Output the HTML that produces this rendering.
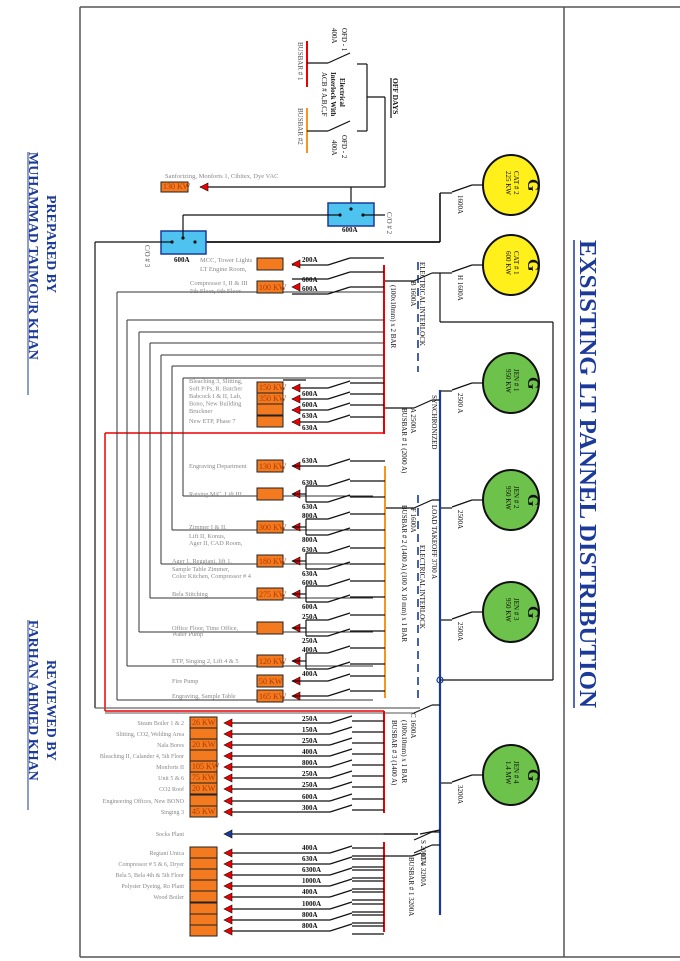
<!DOCTYPE html>
<html><head><meta charset="utf-8"><style>
html,body{margin:0;padding:0;background:#fff;}
svg{display:block;font-family:"Liberation Serif",serif;}
</style></head><body>
<svg id="sld" width="680" height="961" viewBox="0 0 680 961" xmlns="http://www.w3.org/2000/svg">
<g id="frame" stroke="#555" stroke-width="1.5" fill="none">
<line x1="80" y1="7" x2="680" y2="7"/><line x1="80" y1="7" x2="80" y2="957"/><line x1="80" y1="957" x2="680" y2="957"/><line x1="564" y1="7" x2="564" y2="957"/>
</g>
<g id="dyn"></g>
</svg>
<script>
const NS="http://www.w3.org/2000/svg";
const dyn=document.getElementById('dyn');
function el(tag,attrs,parent){const e=document.createElementNS(NS,tag);for(const k in attrs)e.setAttribute(k,attrs[k]);(parent||dyn).appendChild(e);return e;}
function line(x1,y1,x2,y2,c,w,dash){const e=el('line',{x1,y1,x2,y2,stroke:c||'#111','stroke-width':w||1.2});if(dash)e.setAttribute('stroke-dasharray',dash);

return e;}
function txt(x,y,s,size,opt){opt=opt||{};const e=el('text',{x,y,'font-size':size,fill:opt.fill||'#111'});if(opt.rot)e.setAttribute('transform','rotate(90 '+x+' '+y+')');if(opt.bold)e.setAttribute('font-weight','bold');if(opt.anchor)e.setAttribute('text-anchor',opt.anchor);if(opt.len){e.setAttribute('textLength',opt.len);e.setAttribute('lengthAdjust','spacingAndGlyphs');}e.textContent=s;

return e;}
function sw(x,y,name){
const e=el('line',{x1:x,y1:y,x2:x+22,y2:y-7,stroke:'#111','stroke-width':1.2});

}
function arrow(x,y,c){const e=el('polygon',{points:(x)+','+y+' '+(x+8)+','+(y-4)+' '+(x+8)+','+(y+4),fill:c||'#e00',stroke:'#111','stroke-width':0.6});

}
function box(x,y,w,h,s){const r=el('rect',{x,y,width:w,height:h,fill:'#f47a20',stroke:'#222','stroke-width':1});


if(s)txt(x+2,y+h-3,s,8,{fill:'#b03a00',name:'load-kw'});}

txt(580,240,'EXSISTING LT PANNEL DISTRIBUTION',24,{rot:1,bold:1,fill:'#1b3a9a',len:468,name:'diagram-title'});
line(574,240,574,708,'#1b3a9a',1.5);
txt(47,195,'PREPARED BY',14,{rot:1,bold:1,fill:'#1b3a9a',name:'prepared-by'});
txt(29,152,'MUHAMMAD TAIMOUR KHAN',14,{rot:1,bold:1,fill:'#1b3a9a',name:'preparer-name'});
line(28,152,28,395,'#1b3a9a',1);
txt(47,660,'REVIEWED BY',14,{rot:1,bold:1,fill:'#1b3a9a',name:'reviewed-by'});
txt(29,620,'FARHAN AHMED KHAN',14,{rot:1,bold:1,fill:'#1b3a9a',name:'reviewer-name'});
line(28,620,28,810,'#1b3a9a',1);

const genNames=['CAT # 2','CAT # 1','JEN # 1','JEN # 2','JEN # 3','JEN # 4'];
const genRatings=['225 KW','600 KW','950 KW','950 KW','950 KW','1.4 MW'];
const genBreakers=['1600A','H 1600A','2500 A','2500A','2500A','3200A'];
const genY=[185,265,383,500,612,775];
genY.forEach((y,i)=>{
 const c=el('ellipse',{cx:511,cy:y,rx:28,ry:30,fill:i<2?'#ffef1a':'#6cc24a',stroke:'#111','stroke-width':2});
 
 
 txt(528,y-6,'G',16,{rot:1,bold:1,name:'generator-symbol'});
 txt(514,y-14,genNames[i],7,{rot:1,name:'generator-name'});
 txt(506,y-14,genRatings[i],7,{rot:1,name:'generator-rating'});
 line(483,y,472,y);
 el('line',{x1:472,y1:y,x2:452,y2:y+7,stroke:'#111','stroke-width':1.2});
 line(452,y+8,440,y+8);
 txt(458,y+10,genBreakers[i],7,{rot:1,name:'generator-breaker'});
});
line(440,390,440,915,'#1b3a9a',2.2);
line(440,193,440,242,'#111',1.6);
line(195,242,440,242,'#111',1.8);
line(440,273,440,322);line(440,322,553,322);line(553,322,553,680);line(553,680,440,680);
el('circle',{cx:440,cy:680,r:3,fill:'none',stroke:'#1b3a9a','stroke-width':1.2});
txt(432,395,'SYNCHRONIZED',7,{rot:1,name:'synchronized-label'});
txt(432,505,'LOAD TAKEOFF 3700 A',7,{rot:1,name:'load-takeoff-label'});
line(418,262,418,372,'#1b3a9a',1.6,'8,5');
line(418,495,418,698,'#1b3a9a',1.6,'8,5');
txt(420,262,'ELECTRICAL INTERLOCK',7,{rot:1,name:'interlock-label'});
txt(420,545,'ELECTRICAL INTERLOCK',7,{rot:1,name:'interlock-label'});
const incY=[273,400,500,705,832,845];
const incNames=['B 1600A','A 2500A','F 1600A','C 1600A','S 2000A','LT 4 3200A'];
const incX=[411,411,411,411,421,421];
incY.forEach((y,i)=>{line(440,y,432,y);el('line',{x1:432,y1:y,x2:414,y2:y+8,stroke:'#111','stroke-width':1.2});txt(incX[i],y+8,incNames[i],7,{rot:1,name:'incomer-breaker'});});
line(384,281,414,281);line(385,408,414,408);line(385,508,414,508);line(105,713,414,713,'#777',1.3);
line(384,265,384,434,'#e00',2);line(105,433,385,433,'#e00',1.5);line(105,433,105,711,'#e00',1.5);line(105,711,384,711,'#e00',1.5);line(384,711,384,813,'#e00',2);
line(385,466,385,698,'#f7941d',2);
line(384,842,384,932,'#e00',2);
txt(391,285,'(100x10mm) x 2 BAR',7,{rot:1,name:'busbar1-size'});
txt(402,408,'BUSBAR # 1 (2000 A)',7,{rot:1,name:'busbar1-label'});
txt(402,505,'BUSBAR # 2 (1400 A)   (100 X 10 mm) x 1 BAR',7,{rot:1,name:'busbar2-label'});
txt(402,720,'(100x10mm) x 1 BAR',7,{rot:1,name:'busbar3-size'});
txt(392,720,'BUSBAR # 3 (1400 A)',7,{rot:1,name:'busbar3-label'});
txt(409,857,'BUSBAR # 1 3200A',7,{rot:1,name:'busbar4-label'});
line(384,856,412,856);line(412,856,421,853);line(384,834,418,834);line(420,834,440,830);

line(307,41,307,87,'#e00',2);line(307,108,307,153,'#f7941d',2);
txt(298,42,'BUSBAR # 1',7,{rot:1,fill:'#555',name:'offday-busbar1'});
txt(298,108,'BUSBAR #2',7,{rot:1,fill:'#555',name:'offday-busbar2'});
line(307,63,328,63);el('line',{x1:328,y1:63,x2:350,y2:53,stroke:'#111','stroke-width':1.2});
line(307,131,328,131);el('line',{x1:328,y1:131,x2:350,y2:121,stroke:'#111','stroke-width':1.2});
line(357,64,367,64);line(357,131,367,131);line(367,64,367,131);line(367,97,385,97);line(385,97,385,187);
txt(342,28,'OFD - 1',7,{rot:1,name:'ofd1'});txt(332,28,'400A',7,{rot:1,name:'ofd1-rating'});
txt(342,135,'OFD - 2',7,{rot:1,name:'ofd2'});txt(332,140,'400A',7,{rot:1,name:'ofd2-rating'});
txt(340,78,'Electrical',7,{rot:1,bold:1,name:'interlock-note'});txt(331,72,'Interlock With',7,{rot:1,bold:1,name:'interlock-note'});txt(322,72,'ACB # A,B,C,F',7,{rot:1,name:'interlock-note'});
txt(393,78,'OFF DAYS',7.5,{rot:1,bold:1,name:'off-days'});line(391,78,391,118);
line(200,187,385,187);arrow(200,187);box(161,182,27,10,'130 KW');
txt(165,178,'Sanforizing, Monforts 1, Cibitex, Dye VAC',6.5,{fill:'#888',name:'load-desc'});
line(351,187,351,209);
const co2=el('rect',{x:328,y:203,width:46,height:23,fill:'#4fc3f0',stroke:'#1b3a9a','stroke-width':1.5});


const co3=el('rect',{x:161,y:231,width:45,height:23,fill:'#4fc3f0',stroke:'#1b3a9a','stroke-width':1.5});


line(363,215,385,215);line(183,215,340,215);line(183,215,183,238);
[[340,215],[351,209],[363,215],[172,242],[183,238],[195,242]].forEach(p=>el('circle',{cx:p[0],cy:p[1],r:1.6,fill:'#111'}));
txt(342,232,'600A',7,{bold:1,name:'co2-rating'});txt(174,262,'600A',7,{bold:1,name:'co3-rating'});
txt(387,212,'C/O # 2',7,{rot:1,fill:'#555',name:'co2-label'});txt(145,245,'C/O # 3',7,{rot:1,fill:'#555',name:'co3-label'});
line(95,242,172,242);line(95,242,95,708);line(95,708,420,708,'#666',1.3);

const loopX=[117,127,139,150,161,172,183];
const loopY=[292,320,332,343,355,366,378];
loopX.forEach((x,i)=>{line(x,loopY[i],384,loopY[i],'#333',1);line(x,loopY[i],x,700-i*34,'#333',1);line(x,700-i*34,373,700-i*34,'#333',1);});

const b1Amps=['200A','600A','600A'];const b1Y=[263,277,292];
b1Y.forEach((y,i)=>{sw(328,y+2);line(350,y-5,384,y-5);line(292,y+2,328,y+2);txt(302,y+i%2*6-1,b1Amps[i],7,{bold:1,name:'feeder-rating'});});
arrow(292,264);box(257,258,26,12,'');arrow(292,287);box(257,281,26,12,'100 KW');
txt(200,262,'MCC, Tower Lights',6.5,{fill:'#888',name:'load-desc'});txt(200,271,'LT Engine Room,',6.5,{fill:'#888',name:'load-desc'});
txt(190,285,'Compressor I, II & III',6.5,{fill:'#888',name:'load-desc'});txt(190,293,'5th Floor, 6th Floor',6.5,{fill:'#888',name:'load-desc'});
const b1bAmps=['600A','600A','630A','630A'];const b1bKW=['150 KW','350 KW','',''];const b1bY=[388,399,410,422];
b1bY.forEach((y,i)=>{sw(328,y);line(350,y-5,384,y-5);line(292,y,328,y);arrow(292,y);box(257,y-6,26,11,b1bKW[i]);txt(302,y+8,b1bAmps[i],7,{bold:1,name:'feeder-rating'});});
['Bleaching 3, Slitting,','Soft P/Ps, R. Batcher','Babcock I & II, Lab,','Bono, New Building','Bruckner'].forEach((s,i)=>txt(189,383+i*7.5,s,6.3,{fill:'#888',name:'load-desc'}));
txt(189,423,'New ETP, Phase 7',6.3,{fill:'#888',name:'load-desc'});
line(283,380,306,380);

const b2Names=['Engraving Department','Raising M/C, Lift III','Zimmer I & II,','Ager 1, Reggiani, lift 1,','Bela Stitching','Office Floor, Time Office,','ETP, Singing 2, Lift 4 & 5','Fire Pump','Engraving, Sample Table'];
const b2KW=['130 KW','','300 KW','180 KW','275 KW','','120 KW','50 KW','165 KW'];
const b2Amps=['630A','630A','800A','630A','600A','250A','400A','',''];
const b2Y=[466,494,527,561,594,628,661,681,696];
const b2Pair=[0,1,1,1,1,1,1,0,0];
b2Y.forEach((y,i)=>{
 arrow(292,y);box(257,y-6,26,12,b2KW[i]);line(292,y,(b2Pair[i]?306:328),y);
 if(b2Pair[i]){line(306,y-8,306,y+8);[y-8,y+8].forEach(yy=>{line(306,yy,328,yy);sw(328,yy);line(350,yy-5,385,yy-5);});txt(302,y-9,b2Amps[i],7,{bold:1,name:'feeder-rating'});txt(302,y+15,b2Amps[i],7,{bold:1,name:'feeder-rating'});}
 else{sw(328,y);line(350,y-5,385,y-5);if(b2Amps[i])txt(302,y-3,b2Amps[i],7,{bold:1,name:'feeder-rating'});}
 txt(i>=3?172:189,y+2,b2Names[i],6.3,{fill:'#888',name:'load-desc'});
});
txt(189,538,'Lift II, Konus,',6.3,{fill:'#888',name:'load-desc'});txt(189,545,'Ager II, CAD Room,',6.3,{fill:'#888',name:'load-desc'});
txt(172,571,'Sample Table Zimmer,',6.3,{fill:'#888',name:'load-desc'});txt(172,578,'Color Kitchen, Compressor # 4',6.3,{fill:'#888',name:'load-desc'});
txt(172,636,'Water Pump',6.3,{fill:'#888',name:'load-desc'});

const b3Names=['Steam Boiler 1 & 2','Slitting, CO2, Welding Area','Nala Bores','Bleaching II, Calander 4, 5th Floor','Monforts II','Unit 5 & 6','CO2 Roof','Engineering Offices, New BONO','Singing 3'];
const b3KW=['26 KW','','20 KW','','105 KW','75 KW','20 KW','','45 KW'];
const b3Amps=['250A','150A','250A','400A','800A','250A','250A','600A','300A'];
const b3Y=[723,734,745,756,767,778,789,801,812];
b3Y.forEach((y,i)=>{arrow(224,y);box(190,y-6,27,11,b3KW[i]);line(232,y,330,y);sw(330,y);line(352,y-2,384,y-2);txt(302,y-2,b3Amps[i],7,{bold:1,name:'feeder-rating'});txt(184,y+2,b3Names[i],6,{fill:'#888',anchor:'end',name:'load-desc'});});
arrow(224,834,'#1b3a9a');line(232,834,418,834);txt(184,836,'Socks Plant',6,{fill:'#888',anchor:'end',name:'load-desc'});

const b4Names=['Regiani Unica','Compressor # 5 & 6, Dryer','Bela 5, Bela 4th & 5th Floor','Polyster Dyeing, Ro Plant','Wood Boiler','','',''];
const b4Amps=['400A','630A','6300A','1000A','400A','1000A','800A','800A'];
const b4Y=[853,864,875,886,897,909,920,931];
b4Y.forEach((y,i)=>{arrow(224,y);box(190,y-6,27,11,'');line(232,y,330,y);sw(330,y);line(352,y-5,384,y-5);line(352,y+3,384,y+3);txt(302,y-3,b4Amps[i],7,{bold:1,name:'feeder-rating'});if(b4Names[i])txt(184,y+2,b4Names[i],6,{fill:'#888',anchor:'end',name:'load-desc'});});
</script>
</body></html>
